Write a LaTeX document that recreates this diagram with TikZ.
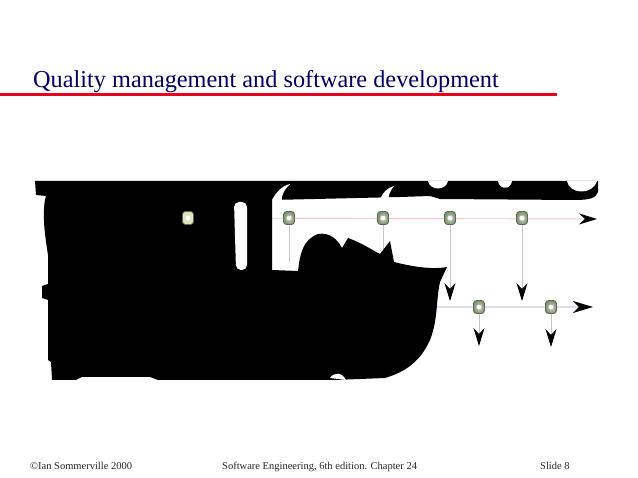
\documentclass[tikz,border=0pt]{standalone}
\usepackage{fontspec}
\setmainfont{Liberation Serif}
\usetikzlibrary{arrows.meta}
\definecolor{titleblue}{HTML}{000060}
\definecolor{rulered}{HTML}{E8001C}
\definecolor{iconedge}{HTML}{5A6A50}
\definecolor{iconfill}{HTML}{7E8E6E}
\definecolor{pinkline}{HTML}{F2C4CC}
\definecolor{lavline}{HTML}{DCDCF4}
\definecolor{greyline}{HTML}{C4C4C4}
\tikzset{
  icon/.style={rectangle, rounded corners=3pt, minimum width=11pt, minimum height=13pt,
    inner sep=0pt, draw=iconedge, line width=0.8pt, inner color=white!70!iconfill, outer color=iconfill,
    path picture={\fill[white] (path picture bounding box.center) ellipse (2.6pt and 2.2pt);}},
  flowline/.style={line width=0.9pt},
  blacktip/.style={-{Stealth[length=18pt,width=11pt,inset=6pt,black]}},
  footer/.style={font=\fontsize{10.5}{12}\selectfont, text=black!85, anchor=base west, inner sep=0pt}
}
\begin{document}
\begin{tikzpicture}[x=1pt,y=-1pt]
\useasboundingbox (0,0) rectangle (638,478);
\fill[white] (0,0) rectangle (638,478);
% title and rule
\node[anchor=base west, inner sep=0pt, text=titleblue, font=\fontsize{24.3}{28}\selectfont] (title) at (33,88) {Quality management and software development};
\draw[rulered, line width=3pt] (0,95) -- (557,95);
% connector end points
\coordinate (topstart) at (150,218);
\coordinate (topend) at (597,219);
\coordinate (botstart) at (300,307);
\coordinate (botend) at (593,307);
\coordinate (h2) at (289,262);
\coordinate (h3) at (383,300);
\coordinate (d4) at (450,301);
\coordinate (d5) at (522,301);
\coordinate (d6) at (479,346);
\coordinate (d7) at (551,347);
% icon positions
\coordinate (p1) at (188,218);
\coordinate (p2) at (289,218);
\coordinate (p3) at (383,218);
\coordinate (p4) at (450,218);
\coordinate (p5) at (522,218);
\coordinate (p6) at (479,307);
\coordinate (p7) at (551,307);
% lines
\draw[pinkline, flowline, blacktip] (topstart) -- (topend);
\draw[lavline, line width=1.6pt, arrows={-{Stealth[length=20pt,width=12pt,inset=6pt,black]}}] (botstart) -- (botend);
\draw[greyline, flowline] (p2) -- (h2);
\draw[greyline, flowline] (p3) -- (h3);
\draw[greyline, flowline, blacktip] (p4) -- (d4);
\draw[greyline, flowline, blacktip] (p5) -- (d5);
\draw[greyline, flowline, blacktip] (p6) -- (d6);
\draw[greyline, flowline, blacktip] (p7) -- (d7);
% black overprinted mass
\fill[black] (35,181) -- (598,181) -- (598,192) .. controls (596,198) and (590,200) .. (575,200)
  -- (440,199) -- (430,196) -- (400,197) -- (272,200) -- (272,270) -- (298,271)
  .. controls (300,255) and (302,240) .. (318,234) .. controls (330,232) and (338,240) .. (342,248)
  -- (348,238) .. controls (362,243) and (372,250) .. (380,254) -- (390,241) -- (394,262)
  .. controls (410,266) and (430,270) .. (447,267) -- (440,282)
  .. controls (436,300) and (438,320) .. (430,340) .. controls (420,362) and (405,372) .. (385,378)
  -- (335,380) -- (158,380) -- (150,377) -- (82,377) -- (76,380) -- (52,380) -- (51,362) -- (48,360)
  -- (48,300) -- (42,298) -- (42,286) -- (48,284) -- (48,255)
  .. controls (44,230) and (42,210) .. (46,196) -- (36,195) -- cycle;
% white gaps inside the mass
\fill[white, rounded corners=5pt] (234,202) -- (247,202) -- (247,270) -- (236,270) -- cycle;
\fill[white] (272,200) .. controls (276,192) and (282,186) .. (290,184) .. controls (284,190) and (281,196) .. (282,200) -- cycle;
\fill[white] (380,200) .. controls (382,193) and (387,188) .. (394,186) .. controls (390,191) and (388,196) .. (389,199) -- cycle;
\fill[white] (428,181) .. controls (430,191) and (446,191) .. (448,181) -- cycle;
\fill[white] (498,181) .. controls (499,190) and (511,190) .. (512,181) -- cycle;
\fill[white] (567,181) .. controls (569,194) and (592,196) .. (597,181) -- cycle;
\fill[white] (330,378) .. controls (334,372) and (342,372) .. (346,380) -- cycle;
% icons
\node[icon, inner color=white!75!iconfill, outer color=iconfill!60!yellow!40!white] (i1) at (p1) {};
\node[icon] (i2) at (p2) {};
\node[icon] (i3) at (p3) {};
\node[icon] (i4) at (p4) {};
\node[icon] (i5) at (p5) {};
\node[icon] (i6) at (p6) {};
\node[icon] (i7) at (p7) {};
% footer
\node[footer] (f1) at (30,470) {©Ian Sommerville 2000};
\node[footer] (f2) at (222,470) {Software Engineering, 6th edition. Chapter 24};
\node[footer] (f3) at (540,470) {Slide 8};
\end{tikzpicture}
\end{document}
